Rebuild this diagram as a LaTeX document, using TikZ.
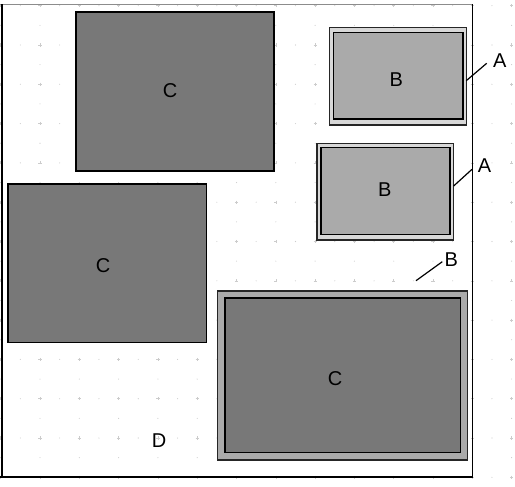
\documentclass[tikz,border=0pt]{standalone}
\usepackage{fontspec}
\setmainfont{Liberation Sans}
\begin{document}
\begin{tikzpicture}[x=1pt,y=-1pt,
  every node/.style={inner sep=0pt,outer sep=0pt},
  lbl/.style={font=\fontsize{20}{20}\selectfont},
  cbox/.style={draw=black,line width=1.6pt,fill=cdark},
  ringB/.style={draw=black!85,line width=1.4pt,fill=ringlight},
  innerB/.style={draw=black,line width=1.6pt,fill=bmid},
  ringC/.style={draw=black!85,line width=1.4pt,fill=bmid},
  leader/.style={draw=black,line width=1.2pt},
  gridp/.style={draw=black!20,line width=0.5pt},
  gridd/.style={fill=black!20}]
\definecolor{cdark}{HTML}{787878}
\definecolor{bmid}{HTML}{AAAAAA}
\definecolor{ringlight}{HTML}{D8D8D8}
\useasboundingbox (0,0) rectangle (515,487);
\fill[white] (0,0) rectangle (515,487);
% grid
\foreach \i in {-1,...,12}{
  \foreach \j in {-1,...,11}{
    \pgfmathsetmacro{\gx}{40+39.3*\i}
    \pgfmathsetmacro{\gy}{45+39.3*\j}
    \draw[gridp] (\gx-1.6,\gy) -- (\gx+1.6,\gy) (\gx,\gy-1.6) -- (\gx,\gy+1.6);
    \fill[gridd] (\gx+19.65,\gy) circle (0.55);
    \fill[gridd] (\gx,\gy+19.65) circle (0.55);
  }
}
% frame
\draw[black!45,line width=1.2pt] (0,4.5) -- (472.5,4.5);
\draw[black,line width=2pt] (2,4.5) -- (2,476.5) (0,476.5) -- (472.5,476.5);
\draw[black,line width=1.6pt] (472.5,4.5) -- (472.5,477.5);
% C boxes
\node[cbox,minimum width=198pt,minimum height=159pt] (c1) at (175,91.5) {};
\node[lbl] (c1t) at (170,91) {C};
\node[cbox,minimum width=198.5pt,minimum height=158.7pt] (c2) at (107.3,263.3) {};
\node[lbl] (c2t) at (103,265.3) {C};
% B boxes
\node[ringB,minimum width=136.7pt,minimum height=97.7pt] (b1o) at (397.9,76.2) {};
\node[innerB,minimum width=129.4pt,minimum height=86.7pt] (b1i) at (398,75.7) {};
\node[lbl] (b1t) at (396.3,80) {B};
\node[ringB,minimum width=136.7pt,minimum height=96.7pt] (b2o) at (385.3,191.6) {};
\node[innerB,minimum width=129pt,minimum height=86.6pt] (b2i) at (385.2,191) {};
\node[lbl] (b2t) at (384.7,190) {B};
% C3 with ring
\node[ringC,minimum width=250pt,minimum height=169pt] (c3o) at (342.7,375.5) {};
\node[cbox,minimum width=235.6pt,minimum height=154.6pt] (c3i) at (342.5,375) {};
\node[lbl] (c3t) at (335.2,378.2) {C};
% labels and leaders
\node[lbl] (a1) at (499.7,60.5) {A};
\node[lbl] (a2) at (484.5,165.8) {A};
\node[lbl] (b3) at (451.3,260) {B};
\node[lbl] (d) at (159,441) {D};
\coordinate (a1e) at (486.7,63.3);
\coordinate (a2e) at (472,169.3);
\coordinate (b3e) at (442.3,261.7);
\coordinate (c3r) at (416,280.7);
\draw[leader] (b1o.east |- 0,80.7) -- (a1e);
\draw[leader] (b2o.east |- 0,186) -- (a2e);
\draw[leader] (c3r) -- (b3e);
\end{tikzpicture}
\end{document}
